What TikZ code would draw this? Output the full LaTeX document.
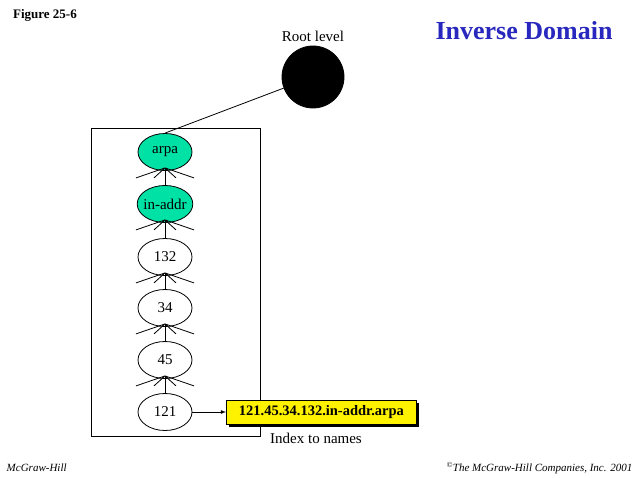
\documentclass[tikz,border=0pt]{standalone}
\usepackage{fontspec}
\setmainfont{Liberation Serif}
\usetikzlibrary{shapes.geometric}
\definecolor{tealg}{RGB}{0,225,165}
\definecolor{ttl}{RGB}{40,40,190}
\begin{document}
\begin{tikzpicture}[x=1pt,y=-1pt,line width=0.8pt,
  nd/.style={draw,ellipse,minimum width=54pt,minimum height=37pt,inner sep=0pt,font=\fontsize{15}{17}\selectfont},
  gn/.style={nd,fill=tealg},
  lbl/.style={font=\fontsize{15}{17}\selectfont}]
\useasboundingbox (0,0) rectangle (638,478);
\draw (91,128) rectangle (260,436);
\node[draw,circle,fill=black,minimum size=62pt,inner sep=0pt] (root) at (313,77) {};
\node[lbl] (rl) at (313,36) {Root level};
\node[font=\bfseries\fontsize{13}{15}\selectfont] (fig) at (45,15) {Figure 25-6};
\node[font=\bfseries\fontsize{26}{28}\selectfont,text=ttl] (title) at (524,31) {Inverse Domain};
\node[gn] (n1) at (165,152) {arpa};
\node[gn,inner xsep=-2pt] (n2) at (165,204) {in-addr};
\node[nd] (n3) at (165,257) {132};
\node[nd] (n4) at (165,308) {34};
\node[nd] (n5) at (165,360) {45};
\node[nd] (n6) at (165,412) {121};
\draw (n1.north) -- (root);
\foreach \p/\c in {n1/n2,n2/n3,n3/n4,n4/n5,n5/n6}{
  \coordinate (cv) at ([yshift=3]\p.south);
  \draw (cv) -- (\c.north);
  \draw (cv) -- ++(-29,10) (cv) -- ++(-11,10) (cv) -- ++(11,10) (cv) -- ++(29,10);
}
\fill[black] (229,403) rectangle (419,427);
\node[draw,fill=yellow,minimum width=190pt,minimum height=24pt,inner sep=0pt,font=\bfseries\fontsize{14.5}{16}\selectfont,anchor=west] (ix) at (226,412) {121.45.34.132.in-addr.arpa};
\draw[-latex] (n6.east) -- (ix.west);
\node[lbl] (itn) at (316,438) {Index to names};
\node[font=\itshape\fontsize{11}{13}\selectfont,anchor=west] (mg) at (3,468) {McGraw-Hill};
\node[font=\itshape\fontsize{11}{13}\selectfont,anchor=east] (cp) at (636,468) {\textsuperscript{\copyright}The McGraw-Hill Companies, Inc. 2001};
\end{tikzpicture}
\end{document}
